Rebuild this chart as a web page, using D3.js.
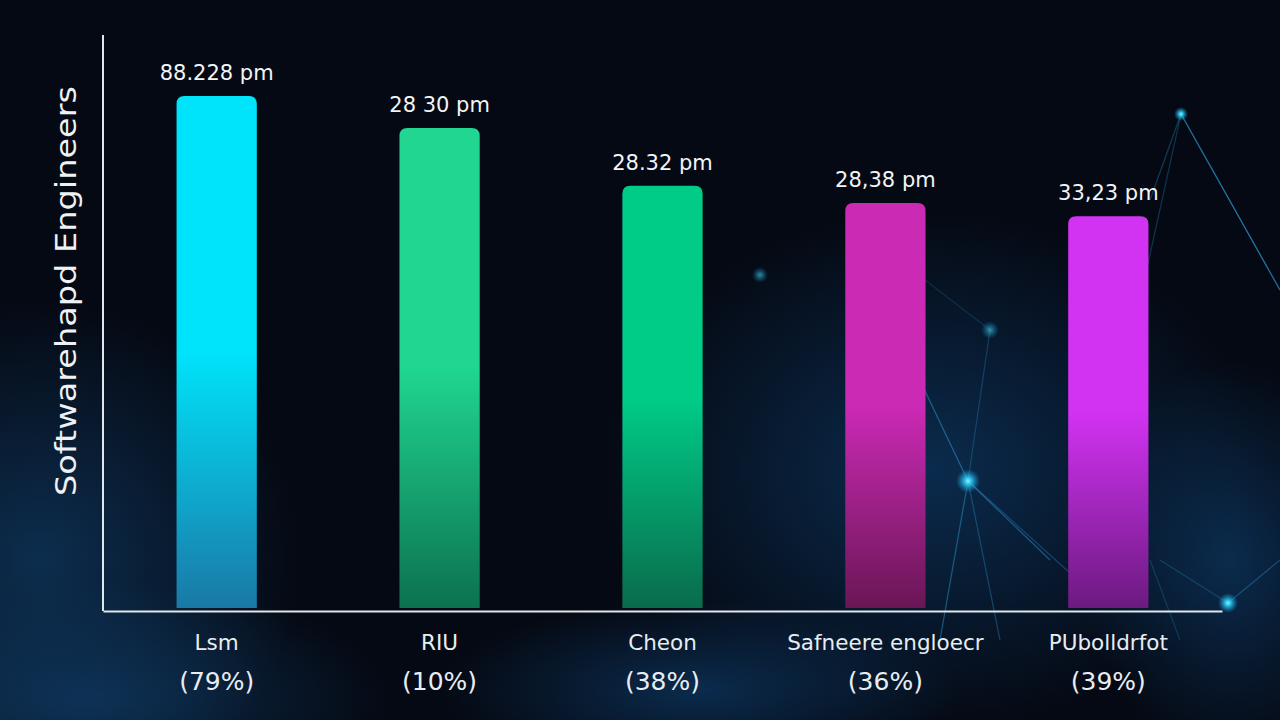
<!DOCTYPE html>
<html>
<head>
<meta charset="utf-8">
<script src="https://cdn.jsdelivr.net/npm/d3@7"></script>
<style>
  html, body { margin: 0; padding: 0; background: #050913; }
  svg { display: block; }
</style>
</head>
<body>
<svg id="chart" width="1280" height="720"></svg>
<script>
// ---- data ----
const categories = ["Lsm", "RIU", "Cheon", "Safneere engloecr", "PUbolldrfot"];
const shares = ["(79%)", "(10%)", "(38%)", "(36%)", "(39%)"];
const values = [89.5, 83.9, 73.8, 70.8, 68.5];
const valueLabels = ["88.228 pm", "28 30 pm", "28.32 pm", "28,38 pm", "33,23 pm"];
const yTitle = "Softwarehapd Engineers";
const topColors = ["#00e4fb", "#20d690", "#00cc88", "#cb2ab5", "#d232f2"];
const bottomColors = ["#1a78a6", "#0c7150", "#096b4b", "#6a1655", "#6c1a80"];

// ---- layout ----
const W = 1280, H = 720;
const x0 = 103, x1 = 1222, yBase = 611, yTop = 36;
const svg = d3.select("#chart");
const defs = svg.append("defs");
const FONT = "'DejaVu Sans', 'Open Sans', sans-serif";

// background
const bgG = defs.append("radialGradient").attr("id", "glowBL").attr("cx", 0.5).attr("cy", 0.5).attr("r", 0.5);
bgG.append("stop").attr("offset", "0%").attr("stop-color", "#0f3a63").attr("stop-opacity", 0.75);
bgG.append("stop").attr("offset", "100%").attr("stop-color", "#0f3a63").attr("stop-opacity", 0);
const bgG2 = defs.append("radialGradient").attr("id", "glowMid").attr("cx", 0.5).attr("cy", 0.5).attr("r", 0.5);
bgG2.append("stop").attr("offset", "0%").attr("stop-color", "#0d3a66").attr("stop-opacity", 0.7);
bgG2.append("stop").attr("offset", "100%").attr("stop-color", "#0d3a66").attr("stop-opacity", 0);
const nodeG = defs.append("radialGradient").attr("id", "node");
nodeG.append("stop").attr("offset", "0%").attr("stop-color", "#8ff4ff").attr("stop-opacity", 1);
nodeG.append("stop").attr("offset", "30%").attr("stop-color", "#2ccaf0").attr("stop-opacity", 0.9);
nodeG.append("stop").attr("offset", "100%").attr("stop-color", "#1a8fd0").attr("stop-opacity", 0);

svg.append("rect").attr("width", W).attr("height", H).attr("fill", "#050913");
svg.append("ellipse").attr("cx", 40).attr("cy", 560).attr("rx", 260).attr("ry", 260).attr("fill", "url(#glowBL)");
svg.append("ellipse").attr("cx", 90).attr("cy", 700).attr("rx", 300).attr("ry", 120).attr("fill", "url(#glowBL)");
svg.append("ellipse").attr("cx", 930).attr("cy", 470).attr("rx", 330).attr("ry", 260).attr("fill", "url(#glowMid)");
svg.append("ellipse").attr("cx", 700).attr("cy", 690).attr("rx", 260).attr("ry", 90).attr("fill", "url(#glowMid)");
svg.append("ellipse").attr("cx", 1230).attr("cy", 560).attr("rx", 150).attr("ry", 200).attr("fill", "url(#glowMid)");

// decorative network
const net = svg.append("g").attr("stroke", "#2a8fc8").attr("fill", "none");
const segs = [
  [1181,114,1280,290,0.8],[1181,114,1150,200,0.35],[1181,114,1140,300,0.3],
  [968,481,915,370,0.55],[968,481,940,640,0.5],[968,481,1050,560,0.5],[968,481,1100,600,0.35],
  [968,481,990,330,0.3],[990,330,860,230,0.2],[968,481,1000,640,0.35],
  [1228,603,1280,560,0.4],[1228,603,1160,560,0.3],[1150,560,1180,640,0.25]
];
net.selectAll("line").data(segs).join("line")
  .attr("x1", d => d[0]).attr("y1", d => d[1]).attr("x2", d => d[2]).attr("y2", d => d[3])
  .attr("stroke-opacity", d => d[4]).attr("stroke-width", 1.3);
const nodes = [[1181,114,7],[968,481,12],[990,330,9],[1228,603,10],[760,275,8]];
svg.append("g").selectAll("circle").data(nodes).join("circle")
  .attr("cx", d => d[0]).attr("cy", d => d[1]).attr("r", d => d[2])
  .attr("fill", "url(#node)").attr("opacity", (d, i) => i === 2 || i === 4 ? 0.5 : 1);

// scales
const x = d3.scaleBand().domain(categories).range([x0, x1]).paddingInner(0.64).paddingOuter(0.33);
const y = d3.scaleLinear().domain([0, 100]).range([yBase - 3, yTop]);

// gradients per bar
categories.forEach((c, i) => {
  const g = defs.append("linearGradient").attr("id", "bar" + i).attr("x1", 0).attr("y1", 0).attr("x2", 0).attr("y2", 1);
  g.append("stop").attr("offset", "0%").attr("stop-color", topColors[i]);
  g.append("stop").attr("offset", "50%").attr("stop-color", topColors[i]);
  g.append("stop").attr("offset", "100%").attr("stop-color", bottomColors[i]);
});

function topRounded(xp, yp, w, h, r) {
  return `M${xp},${yp + h} V${yp + r} Q${xp},${yp} ${xp + r},${yp} H${xp + w - r} Q${xp + w},${yp} ${xp + w},${yp + r} V${yp + h} Z`;
}

svg.append("g").selectAll("path").data(values).join("path")
  .attr("d", (v, i) => {
    const xp = x(categories[i]), yp = y(v), h = y(0) - y(v);
    return topRounded(xp, yp, x.bandwidth(), h, 8);
  })
  .attr("fill", (v, i) => `url(#bar${i})`);

// value labels
svg.append("g").selectAll("text").data(values).join("text")
  .attr("x", (v, i) => x(categories[i]) + x.bandwidth() / 2)
  .attr("y", v => y(v) - 16)
  .attr("text-anchor", "middle")
  .attr("fill", "#f2f4f6")
  .style("font-family", FONT)
  .style("font-size", "21px")
  .text((v, i) => valueLabels[i]);

// axes
const axisColor = "#dfe6ec";
const xAxis = d3.axisBottom(x).tickSize(0).tickFormat(() => "");
const gx = svg.append("g").attr("transform", `translate(0,${yBase})`).call(xAxis);
gx.select(".domain").attr("stroke", axisColor).attr("stroke-width", 2.2);
const yAxis = d3.axisLeft(y).tickSize(0).tickValues([]);
const gy = svg.append("g").attr("transform", `translate(${x0},0)`).call(yAxis);
gy.select(".domain").attr("stroke", axisColor).attr("stroke-width", 2).attr("d", `M0,${yTop - 1}V${yBase}`);

// category labels
const catG = svg.append("g").style("font-family", FONT).attr("fill", "#e8edf2").attr("text-anchor", "middle");
catG.selectAll("text.cat").data(categories).join("text").attr("class", "cat")
  .attr("x", c => x(c) + x.bandwidth() / 2).attr("y", 650)
  .style("font-size", "21.5px").text(c => c);
catG.selectAll("text.share").data(shares).join("text").attr("class", "share")
  .attr("x", (s, i) => x(categories[i]) + x.bandwidth() / 2).attr("y", 690)
  .style("font-size", "25px").text(s => s);

// y title
svg.append("text")
  .attr("transform", `translate(76,291) rotate(-90)`)
  .attr("text-anchor", "middle")
  .attr("fill", "#eef2f5")
  .style("font-family", FONT)
  .style("font-size", "29px")
  .attr("textLength", 410)
  .attr("lengthAdjust", "spacingAndGlyphs")
  .text(yTitle);
</script>
</body>
</html>
